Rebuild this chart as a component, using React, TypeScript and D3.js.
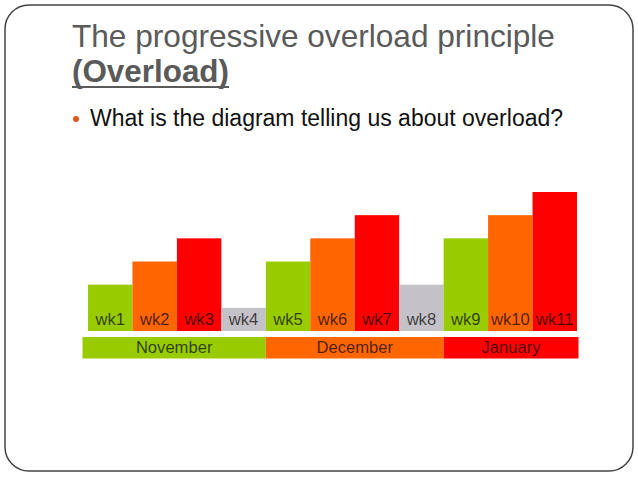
import React, { useEffect, useRef } from 'react';
import * as d3 from 'd3';

const weeks = ['wk1', 'wk2', 'wk3', 'wk4', 'wk5', 'wk6', 'wk7', 'wk8', 'wk9', 'wk10', 'wk11'];
const loads = [2, 3, 4, 1, 3, 4, 5, 2, 4, 5, 6];
const barColors = ['#99cc00', '#ff6600', '#ff0000', '#c4c2c8', '#99cc00', '#ff6600', '#ff0000', '#c4c2c8', '#99cc00', '#ff6600', '#ff0000'];
const months = ['November', 'December', 'January'];
const monthWeeks = [4, 4, 3];
const monthColors = ['#99cc00', '#ff6600', '#ff0000'];

const App: React.FC = () => {
  const svgRef = useRef<SVGSVGElement | null>(null);

  useEffect(() => {
    const width = 638;
    const height = 478;
    const font = 'Arial, "Liberation Sans", sans-serif';

    const svg = d3.select(svgRef.current)
      .attr('width', width)
      .attr('height', height);
    svg.selectAll('*').remove();

    // slide frame
    svg.append('rect')
      .attr('x', 5)
      .attr('y', 5)
      .attr('width', 628)
      .attr('height', 466)
      .attr('rx', 24)
      .attr('fill', '#fff')
      .attr('stroke', '#444')
      .attr('stroke-width', 1.5);

    // heading
    svg.append('text')
      .attr('x', 72)
      .attr('y', 47)
      .attr('font-family', font)
      .attr('font-size', 31.6)
      .attr('fill', '#5a5a5a')
      .text('The progressive overload principle');

    const sub = svg.append('text')
      .attr('x', 72)
      .attr('y', 82)
      .attr('font-family', font)
      .attr('font-size', 31.4)
      .attr('font-weight', 'bold')
      .attr('fill', '#5a5a5a')
      .text('(Overload)');
    const subW = (sub.node() as SVGTextElement).getComputedTextLength();
    svg.append('rect')
      .attr('x', 72)
      .attr('y', 86)
      .attr('width', subW)
      .attr('height', 2)
      .attr('fill', '#5a5a5a');

    svg.append('circle')
      .attr('cx', 76)
      .attr('cy', 119)
      .attr('r', 3)
      .attr('fill', '#e0561b');
    svg.append('text')
      .attr('x', 90)
      .attr('y', 126)
      .attr('font-family', font)
      .attr('font-size', 23)
      .attr('fill', '#111')
      .text('What is the diagram telling us about overload?');

    // chart
    const x = d3.scaleBand<string>()
      .domain(weeks)
      .range([88, 577])
      .padding(0);

    const y = d3.scaleLinear()
      .domain([0, 6])
      .range([331, 192]);

    const g = svg.append('g');

    g.selectAll('.bar')
      .data(weeks)
      .enter()
      .append('rect')
      .attr('class', 'bar')
      .attr('x', d => x(d)!)
      .attr('y', (d, i) => y(loads[i]))
      .attr('width', x.bandwidth())
      .attr('height', (d, i) => y(0) - y(loads[i]))
      .attr('fill', (d, i) => barColors[i]);

    g.selectAll('.wk')
      .data(weeks)
      .enter()
      .append('text')
      .attr('class', 'wk')
      .attr('x', d => x(d)! + x.bandwidth() / 2)
      .attr('y', y(0) - 6)
      .attr('text-anchor', 'middle')
      .attr('font-family', font)
      .attr('font-size', 16.6)
      .attr('fill', '#000')
      .attr('fill-opacity', 0.7)
      .text(d => d);

    // month strip
    const starts = d3.cumsum([0, ...monthWeeks]);
    const segs = months.map((m, i) => {
      const first = weeks[starts[i]];
      const last = weeks[starts[i + 1] - 1];
      let x0 = x(first)!;
      let x1 = x(last)! + x.bandwidth();
      if (i === 0) x0 -= 5.5;
      if (i === months.length - 1) x1 += 1.5;
      return { m, x0, x1, c: monthColors[i] };
    });

    const stripTop = y(0) + 6;
    const stripH = 21.5;

    g.selectAll('.month')
      .data(segs)
      .enter()
      .append('rect')
      .attr('class', 'month')
      .attr('x', d => d.x0)
      .attr('y', stripTop)
      .attr('width', d => d.x1 - d.x0)
      .attr('height', stripH)
      .attr('fill', d => d.c);

    g.selectAll('.mlabel')
      .data(segs)
      .enter()
      .append('text')
      .attr('class', 'mlabel')
      .attr('x', d => (d.x0 + d.x1) / 2)
      .attr('y', stripTop + 15.8)
      .attr('text-anchor', 'middle')
      .attr('font-family', font)
      .attr('font-size', 16.6)
      .attr('fill', '#000')
      .attr('fill-opacity', 0.7)
      .text(d => d.m);
  }, []);

  return <svg ref={svgRef} style={{ position: 'absolute', left: 0, top: 0 }}></svg>;
};

export default App;
